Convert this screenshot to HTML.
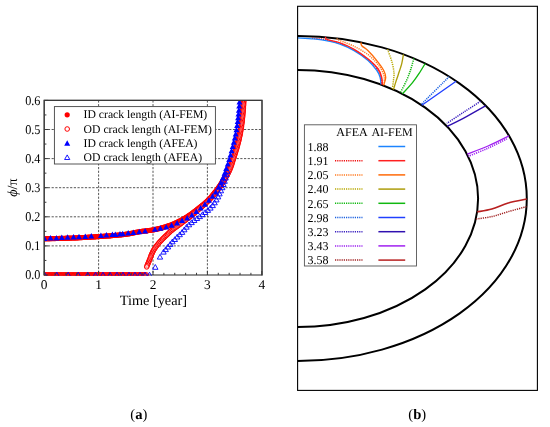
<!DOCTYPE html>
<html><head><meta charset="utf-8"><style>
html,body{margin:0;padding:0;background:#fff;}
svg{display:block;text-rendering:geometricPrecision;filter:blur(0.3px);}
</style></head><body>
<svg width="550" height="427" viewBox="0 0 550 427">
<rect width="550" height="427" fill="#fff"/>
<clipPath id="ca"><rect x="44.2" y="100.4" width="217.8" height="175.29999999999998"/></clipPath>
<rect x="44.2" y="100.4" width="217.8" height="174.6" fill="none" stroke="#3a3a3a" stroke-width="1.1"/>
<path d="M98.60 100.4V275.0M153.00 100.4V275.0M207.40 100.4V275.0M44.2 245.90H262.0M44.2 216.80H262.0M44.2 187.70H262.0M44.2 158.60H262.0M44.2 129.50H262.0" stroke="#444" stroke-width="0.9" stroke-dasharray="2.2 1.5" fill="none"/>
<g clip-path="url(#ca)">
<g fill="none" stroke="#ff0000" stroke-width="1"><circle cx="44.2" cy="275.0" r="2.4"/><circle cx="45.4" cy="275.0" r="2.4"/><circle cx="46.6" cy="275.0" r="2.4"/><circle cx="47.8" cy="275.0" r="2.4"/><circle cx="49.0" cy="275.0" r="2.4"/><circle cx="50.2" cy="275.0" r="2.4"/><circle cx="51.4" cy="275.0" r="2.4"/><circle cx="52.6" cy="275.0" r="2.4"/><circle cx="53.8" cy="275.0" r="2.4"/><circle cx="55.0" cy="275.0" r="2.4"/><circle cx="56.2" cy="275.0" r="2.4"/><circle cx="57.4" cy="275.0" r="2.4"/><circle cx="58.6" cy="275.0" r="2.4"/><circle cx="59.8" cy="275.0" r="2.4"/><circle cx="61.0" cy="275.0" r="2.4"/><circle cx="62.2" cy="275.0" r="2.4"/><circle cx="63.4" cy="275.0" r="2.4"/><circle cx="64.6" cy="275.0" r="2.4"/><circle cx="65.8" cy="275.0" r="2.4"/><circle cx="67.0" cy="275.0" r="2.4"/><circle cx="68.2" cy="275.0" r="2.4"/><circle cx="69.4" cy="275.0" r="2.4"/><circle cx="70.6" cy="275.0" r="2.4"/><circle cx="71.8" cy="275.0" r="2.4"/><circle cx="73.0" cy="275.0" r="2.4"/><circle cx="74.2" cy="275.0" r="2.4"/><circle cx="75.4" cy="275.0" r="2.4"/><circle cx="76.6" cy="275.0" r="2.4"/><circle cx="77.8" cy="275.0" r="2.4"/><circle cx="79.0" cy="275.0" r="2.4"/><circle cx="80.2" cy="275.0" r="2.4"/><circle cx="81.4" cy="275.0" r="2.4"/><circle cx="82.6" cy="275.0" r="2.4"/><circle cx="83.8" cy="275.0" r="2.4"/><circle cx="85.0" cy="275.0" r="2.4"/><circle cx="86.2" cy="275.0" r="2.4"/><circle cx="87.4" cy="275.0" r="2.4"/><circle cx="88.6" cy="275.0" r="2.4"/><circle cx="89.8" cy="275.0" r="2.4"/><circle cx="91.0" cy="275.0" r="2.4"/><circle cx="92.2" cy="275.0" r="2.4"/><circle cx="93.4" cy="275.0" r="2.4"/><circle cx="94.6" cy="275.0" r="2.4"/><circle cx="95.8" cy="275.0" r="2.4"/><circle cx="97.0" cy="275.0" r="2.4"/><circle cx="98.2" cy="275.0" r="2.4"/><circle cx="99.4" cy="275.0" r="2.4"/><circle cx="100.6" cy="275.0" r="2.4"/><circle cx="101.8" cy="275.0" r="2.4"/><circle cx="103.0" cy="275.0" r="2.4"/><circle cx="104.2" cy="275.0" r="2.4"/><circle cx="105.4" cy="275.0" r="2.4"/><circle cx="106.6" cy="275.0" r="2.4"/><circle cx="107.8" cy="275.0" r="2.4"/><circle cx="109.0" cy="275.0" r="2.4"/><circle cx="110.2" cy="275.0" r="2.4"/><circle cx="111.4" cy="275.0" r="2.4"/><circle cx="112.6" cy="275.0" r="2.4"/><circle cx="113.8" cy="275.0" r="2.4"/><circle cx="115.0" cy="275.0" r="2.4"/><circle cx="116.2" cy="275.0" r="2.4"/><circle cx="117.4" cy="275.0" r="2.4"/><circle cx="118.6" cy="275.0" r="2.4"/><circle cx="119.8" cy="275.0" r="2.4"/><circle cx="121.0" cy="275.0" r="2.4"/><circle cx="122.2" cy="275.0" r="2.4"/><circle cx="123.4" cy="275.0" r="2.4"/><circle cx="124.6" cy="275.0" r="2.4"/><circle cx="125.8" cy="275.0" r="2.4"/><circle cx="127.0" cy="275.0" r="2.4"/><circle cx="128.2" cy="275.0" r="2.4"/><circle cx="129.4" cy="275.0" r="2.4"/><circle cx="130.6" cy="275.0" r="2.4"/><circle cx="131.8" cy="275.0" r="2.4"/><circle cx="133.0" cy="275.0" r="2.4"/><circle cx="134.2" cy="275.0" r="2.4"/><circle cx="135.4" cy="275.0" r="2.4"/><circle cx="136.6" cy="275.0" r="2.4"/><circle cx="137.8" cy="275.0" r="2.4"/><circle cx="139.0" cy="275.0" r="2.4"/><circle cx="140.2" cy="275.0" r="2.4"/><circle cx="141.4" cy="275.0" r="2.4"/><circle cx="142.6" cy="275.0" r="2.4"/><circle cx="143.8" cy="275.0" r="2.4"/><circle cx="145.0" cy="275.0" r="2.4"/><circle cx="146.2" cy="275.0" r="2.4"/></g>
<g fill="#ff0000"><circle cx="44.2" cy="238.8" r="2.6"/><circle cx="45.2" cy="238.8" r="2.6"/><circle cx="46.2" cy="238.7" r="2.6"/><circle cx="47.2" cy="238.7" r="2.6"/><circle cx="48.2" cy="238.7" r="2.6"/><circle cx="49.2" cy="238.7" r="2.6"/><circle cx="50.2" cy="238.7" r="2.6"/><circle cx="51.2" cy="238.6" r="2.6"/><circle cx="52.2" cy="238.6" r="2.6"/><circle cx="53.2" cy="238.6" r="2.6"/><circle cx="54.2" cy="238.6" r="2.6"/><circle cx="55.2" cy="238.6" r="2.6"/><circle cx="56.2" cy="238.5" r="2.6"/><circle cx="57.2" cy="238.5" r="2.6"/><circle cx="58.2" cy="238.5" r="2.6"/><circle cx="59.2" cy="238.4" r="2.6"/><circle cx="60.2" cy="238.4" r="2.6"/><circle cx="61.2" cy="238.4" r="2.6"/><circle cx="62.2" cy="238.4" r="2.6"/><circle cx="63.2" cy="238.3" r="2.6"/><circle cx="64.2" cy="238.3" r="2.6"/><circle cx="65.2" cy="238.3" r="2.6"/><circle cx="66.2" cy="238.2" r="2.6"/><circle cx="67.2" cy="238.2" r="2.6"/><circle cx="68.2" cy="238.2" r="2.6"/><circle cx="69.2" cy="238.1" r="2.6"/><circle cx="70.2" cy="238.1" r="2.6"/><circle cx="71.2" cy="238.1" r="2.6"/><circle cx="72.2" cy="238.0" r="2.6"/><circle cx="73.2" cy="238.0" r="2.6"/><circle cx="74.2" cy="237.9" r="2.6"/><circle cx="75.2" cy="237.9" r="2.6"/><circle cx="76.2" cy="237.9" r="2.6"/><circle cx="77.2" cy="237.8" r="2.6"/><circle cx="78.2" cy="237.8" r="2.6"/><circle cx="79.2" cy="237.7" r="2.6"/><circle cx="80.2" cy="237.7" r="2.6"/><circle cx="81.2" cy="237.6" r="2.6"/><circle cx="82.2" cy="237.6" r="2.6"/><circle cx="83.2" cy="237.5" r="2.6"/><circle cx="84.2" cy="237.5" r="2.6"/><circle cx="85.2" cy="237.4" r="2.6"/><circle cx="86.2" cy="237.4" r="2.6"/><circle cx="87.2" cy="237.3" r="2.6"/><circle cx="88.2" cy="237.2" r="2.6"/><circle cx="89.2" cy="237.2" r="2.6"/><circle cx="90.2" cy="237.1" r="2.6"/><circle cx="91.2" cy="237.1" r="2.6"/><circle cx="92.2" cy="237.0" r="2.6"/><circle cx="93.2" cy="236.9" r="2.6"/><circle cx="94.2" cy="236.9" r="2.6"/><circle cx="95.2" cy="236.8" r="2.6"/><circle cx="96.2" cy="236.7" r="2.6"/><circle cx="97.2" cy="236.7" r="2.6"/><circle cx="98.2" cy="236.6" r="2.6"/><circle cx="99.1" cy="236.6" r="2.6"/><circle cx="100.1" cy="236.5" r="2.6"/><circle cx="101.1" cy="236.4" r="2.6"/><circle cx="102.1" cy="236.4" r="2.6"/><circle cx="103.1" cy="236.3" r="2.6"/><circle cx="104.1" cy="236.2" r="2.6"/><circle cx="105.1" cy="236.1" r="2.6"/><circle cx="106.1" cy="236.1" r="2.6"/><circle cx="107.1" cy="236.0" r="2.6"/><circle cx="108.1" cy="235.9" r="2.6"/><circle cx="109.1" cy="235.9" r="2.6"/><circle cx="110.1" cy="235.8" r="2.6"/><circle cx="111.1" cy="235.7" r="2.6"/><circle cx="112.1" cy="235.6" r="2.6"/><circle cx="113.1" cy="235.5" r="2.6"/><circle cx="114.1" cy="235.5" r="2.6"/><circle cx="115.1" cy="235.4" r="2.6"/><circle cx="116.1" cy="235.3" r="2.6"/><circle cx="117.1" cy="235.2" r="2.6"/><circle cx="118.1" cy="235.1" r="2.6"/><circle cx="119.1" cy="235.0" r="2.6"/><circle cx="120.1" cy="234.9" r="2.6"/><circle cx="121.1" cy="234.8" r="2.6"/><circle cx="122.1" cy="234.7" r="2.6"/><circle cx="123.1" cy="234.6" r="2.6"/><circle cx="124.1" cy="234.5" r="2.6"/><circle cx="125.1" cy="234.4" r="2.6"/><circle cx="126.0" cy="234.2" r="2.6"/><circle cx="127.0" cy="234.1" r="2.6"/><circle cx="128.0" cy="233.9" r="2.6"/><circle cx="129.0" cy="233.8" r="2.6"/><circle cx="130.0" cy="233.6" r="2.6"/><circle cx="131.0" cy="233.4" r="2.6"/><circle cx="132.0" cy="233.2" r="2.6"/><circle cx="132.9" cy="233.0" r="2.6"/><circle cx="133.9" cy="232.8" r="2.6"/><circle cx="134.9" cy="232.6" r="2.6"/><circle cx="135.9" cy="232.4" r="2.6"/><circle cx="136.9" cy="232.2" r="2.6"/><circle cx="137.8" cy="232.0" r="2.6"/><circle cx="138.8" cy="231.8" r="2.6"/><circle cx="139.8" cy="231.7" r="2.6"/><circle cx="140.8" cy="231.5" r="2.6"/><circle cx="141.8" cy="231.4" r="2.6"/><circle cx="142.8" cy="231.2" r="2.6"/><circle cx="143.8" cy="231.1" r="2.6"/><circle cx="144.8" cy="231.0" r="2.6"/><circle cx="145.8" cy="230.9" r="2.6"/><circle cx="146.7" cy="230.8" r="2.6"/><circle cx="147.7" cy="230.7" r="2.6"/><circle cx="148.7" cy="230.5" r="2.6"/><circle cx="149.7" cy="230.4" r="2.6"/><circle cx="150.7" cy="230.3" r="2.6"/><circle cx="151.7" cy="230.1" r="2.6"/><circle cx="152.7" cy="229.9" r="2.6"/><circle cx="153.7" cy="229.8" r="2.6"/><circle cx="154.7" cy="229.6" r="2.6"/><circle cx="155.6" cy="229.4" r="2.6"/><circle cx="156.6" cy="229.2" r="2.6"/><circle cx="157.6" cy="228.9" r="2.6"/><circle cx="158.6" cy="228.7" r="2.6"/><circle cx="159.5" cy="228.5" r="2.6"/><circle cx="160.5" cy="228.2" r="2.6"/><circle cx="161.5" cy="228.0" r="2.6"/><circle cx="162.4" cy="227.7" r="2.6"/><circle cx="163.4" cy="227.4" r="2.6"/><circle cx="164.3" cy="227.1" r="2.6"/><circle cx="165.3" cy="226.8" r="2.6"/><circle cx="166.3" cy="226.5" r="2.6"/><circle cx="167.2" cy="226.2" r="2.6"/><circle cx="168.2" cy="225.9" r="2.6"/><circle cx="169.1" cy="225.6" r="2.6"/><circle cx="170.1" cy="225.3" r="2.6"/><circle cx="171.0" cy="224.9" r="2.6"/><circle cx="171.9" cy="224.6" r="2.6"/><circle cx="172.8" cy="224.2" r="2.6"/><circle cx="173.8" cy="223.8" r="2.6"/><circle cx="174.7" cy="223.4" r="2.6"/><circle cx="175.6" cy="222.9" r="2.6"/><circle cx="176.5" cy="222.5" r="2.6"/><circle cx="177.4" cy="222.1" r="2.6"/><circle cx="178.3" cy="221.7" r="2.6"/><circle cx="179.2" cy="221.2" r="2.6"/><circle cx="180.1" cy="220.8" r="2.6"/><circle cx="181.0" cy="220.3" r="2.6"/><circle cx="181.8" cy="219.8" r="2.6"/><circle cx="182.7" cy="219.3" r="2.6"/><circle cx="183.6" cy="218.9" r="2.6"/><circle cx="184.5" cy="218.4" r="2.6"/><circle cx="185.3" cy="217.9" r="2.6"/><circle cx="186.2" cy="217.3" r="2.6"/><circle cx="187.0" cy="216.8" r="2.6"/><circle cx="187.9" cy="216.3" r="2.6"/><circle cx="188.7" cy="215.7" r="2.6"/><circle cx="189.5" cy="215.2" r="2.6"/><circle cx="190.4" cy="214.6" r="2.6"/><circle cx="191.2" cy="214.0" r="2.6"/><circle cx="192.0" cy="213.4" r="2.6"/><circle cx="192.8" cy="212.8" r="2.6"/><circle cx="193.6" cy="212.2" r="2.6"/><circle cx="194.4" cy="211.6" r="2.6"/><circle cx="195.2" cy="211.0" r="2.6"/><circle cx="196.0" cy="210.4" r="2.6"/><circle cx="196.7" cy="209.8" r="2.6"/><circle cx="197.5" cy="209.2" r="2.6"/><circle cx="198.3" cy="208.5" r="2.6"/><circle cx="199.1" cy="207.9" r="2.6"/><circle cx="199.9" cy="207.3" r="2.6"/><circle cx="200.7" cy="206.7" r="2.6"/><circle cx="201.4" cy="206.1" r="2.6"/><circle cx="202.2" cy="205.4" r="2.6"/><circle cx="203.0" cy="204.8" r="2.6"/><circle cx="203.8" cy="204.2" r="2.6"/><circle cx="204.5" cy="203.5" r="2.6"/><circle cx="205.3" cy="202.9" r="2.6"/><circle cx="206.0" cy="202.2" r="2.6"/><circle cx="206.8" cy="201.5" r="2.6"/><circle cx="207.5" cy="200.8" r="2.6"/><circle cx="208.2" cy="200.1" r="2.6"/><circle cx="208.9" cy="199.4" r="2.6"/><circle cx="209.6" cy="198.7" r="2.6"/><circle cx="210.3" cy="198.0" r="2.6"/><circle cx="211.0" cy="197.2" r="2.6"/><circle cx="211.6" cy="196.5" r="2.6"/><circle cx="212.3" cy="195.7" r="2.6"/><circle cx="212.9" cy="194.9" r="2.6"/><circle cx="213.5" cy="194.1" r="2.6"/><circle cx="214.1" cy="193.4" r="2.6"/><circle cx="214.7" cy="192.6" r="2.6"/><circle cx="215.3" cy="191.8" r="2.6"/><circle cx="216.0" cy="191.0" r="2.6"/><circle cx="216.6" cy="190.2" r="2.6"/><circle cx="217.2" cy="189.4" r="2.6"/><circle cx="217.8" cy="188.6" r="2.6"/><circle cx="218.4" cy="187.8" r="2.6"/><circle cx="218.9" cy="187.0" r="2.6"/><circle cx="219.5" cy="186.1" r="2.6"/><circle cx="220.1" cy="185.3" r="2.6"/><circle cx="220.6" cy="184.5" r="2.6"/><circle cx="221.2" cy="183.6" r="2.6"/><circle cx="221.7" cy="182.8" r="2.6"/><circle cx="222.2" cy="181.9" r="2.6"/><circle cx="222.7" cy="181.1" r="2.6"/><circle cx="223.2" cy="180.2" r="2.6"/><circle cx="223.7" cy="179.4" r="2.6"/><circle cx="224.2" cy="178.5" r="2.6"/><circle cx="224.7" cy="177.6" r="2.6"/><circle cx="225.2" cy="176.7" r="2.6"/><circle cx="225.6" cy="175.8" r="2.6"/><circle cx="226.1" cy="175.0" r="2.6"/><circle cx="226.6" cy="174.1" r="2.6"/><circle cx="227.0" cy="173.2" r="2.6"/><circle cx="227.5" cy="172.3" r="2.6"/><circle cx="227.9" cy="171.4" r="2.6"/><circle cx="228.3" cy="170.5" r="2.6"/><circle cx="228.8" cy="169.6" r="2.6"/><circle cx="229.2" cy="168.7" r="2.6"/><circle cx="229.6" cy="167.7" r="2.6"/><circle cx="230.0" cy="166.8" r="2.6"/><circle cx="230.4" cy="165.9" r="2.6"/><circle cx="230.7" cy="165.0" r="2.6"/><circle cx="231.1" cy="164.0" r="2.6"/><circle cx="231.4" cy="163.1" r="2.6"/><circle cx="231.8" cy="162.2" r="2.6"/><circle cx="232.1" cy="161.2" r="2.6"/><circle cx="232.4" cy="160.3" r="2.6"/><circle cx="232.7" cy="159.3" r="2.6"/><circle cx="233.0" cy="158.4" r="2.6"/><circle cx="233.4" cy="157.4" r="2.6"/><circle cx="233.7" cy="156.5" r="2.6"/><circle cx="234.0" cy="155.5" r="2.6"/><circle cx="234.3" cy="154.6" r="2.6"/><circle cx="234.6" cy="153.6" r="2.6"/><circle cx="234.9" cy="152.7" r="2.6"/><circle cx="235.2" cy="151.7" r="2.6"/><circle cx="235.5" cy="150.7" r="2.6"/><circle cx="235.7" cy="149.8" r="2.6"/><circle cx="236.0" cy="148.8" r="2.6"/><circle cx="236.3" cy="147.9" r="2.6"/><circle cx="236.6" cy="146.9" r="2.6"/><circle cx="236.8" cy="145.9" r="2.6"/><circle cx="237.1" cy="145.0" r="2.6"/><circle cx="237.3" cy="144.0" r="2.6"/><circle cx="237.6" cy="143.0" r="2.6"/><circle cx="237.8" cy="142.1" r="2.6"/><circle cx="238.1" cy="141.1" r="2.6"/><circle cx="238.3" cy="140.1" r="2.6"/><circle cx="238.6" cy="139.2" r="2.6"/><circle cx="238.8" cy="138.2" r="2.6"/><circle cx="239.0" cy="137.2" r="2.6"/><circle cx="239.3" cy="136.2" r="2.6"/><circle cx="239.5" cy="135.3" r="2.6"/><circle cx="239.7" cy="134.3" r="2.6"/><circle cx="239.9" cy="133.3" r="2.6"/><circle cx="240.1" cy="132.3" r="2.6"/><circle cx="240.3" cy="131.3" r="2.6"/><circle cx="240.4" cy="130.4" r="2.6"/><circle cx="240.6" cy="129.4" r="2.6"/><circle cx="240.8" cy="128.4" r="2.6"/><circle cx="240.9" cy="127.4" r="2.6"/><circle cx="241.1" cy="126.4" r="2.6"/><circle cx="241.2" cy="125.4" r="2.6"/><circle cx="241.3" cy="124.4" r="2.6"/><circle cx="241.5" cy="123.4" r="2.6"/><circle cx="241.6" cy="122.4" r="2.6"/><circle cx="241.7" cy="121.4" r="2.6"/><circle cx="241.8" cy="120.4" r="2.6"/><circle cx="241.9" cy="119.5" r="2.6"/><circle cx="242.0" cy="118.5" r="2.6"/><circle cx="242.1" cy="117.5" r="2.6"/><circle cx="242.2" cy="116.5" r="2.6"/><circle cx="242.3" cy="115.5" r="2.6"/><circle cx="242.4" cy="114.5" r="2.6"/><circle cx="242.5" cy="113.5" r="2.6"/><circle cx="242.6" cy="112.5" r="2.6"/><circle cx="242.7" cy="111.5" r="2.6"/><circle cx="242.7" cy="110.5" r="2.6"/><circle cx="242.8" cy="109.5" r="2.6"/><circle cx="242.9" cy="108.5" r="2.6"/><circle cx="242.9" cy="107.5" r="2.6"/><circle cx="243.0" cy="106.5" r="2.6"/><circle cx="243.1" cy="105.5" r="2.6"/><circle cx="243.1" cy="104.5" r="2.6"/><circle cx="243.2" cy="103.5" r="2.6"/><circle cx="243.3" cy="102.5" r="2.6"/><circle cx="243.3" cy="101.5" r="2.6"/><circle cx="243.4" cy="100.5" r="2.6"/><circle cx="243.5" cy="99.5" r="2.6"/><circle cx="243.5" cy="98.5" r="2.6"/><circle cx="243.6" cy="97.5" r="2.6"/><circle cx="243.7" cy="96.5" r="2.6"/><circle cx="243.7" cy="95.5" r="2.6"/><circle cx="243.8" cy="94.5" r="2.6"/><circle cx="243.9" cy="93.5" r="2.6"/><circle cx="243.9" cy="92.5" r="2.6"/><circle cx="244.0" cy="91.5" r="2.6"/><circle cx="244.1" cy="90.5" r="2.6"/><circle cx="244.1" cy="89.5" r="2.6"/><circle cx="244.2" cy="88.5" r="2.6"/><circle cx="244.3" cy="87.5" r="2.6"/><circle cx="244.3" cy="86.5" r="2.6"/></g>
<g fill="#fff" fill-opacity="0.45" stroke="#ff0000" stroke-width="1"><circle cx="244.6" cy="86.8" r="2.3"/><circle cx="244.6" cy="88.0" r="2.3"/><circle cx="244.5" cy="89.2" r="2.3"/><circle cx="244.4" cy="90.3" r="2.3"/><circle cx="244.4" cy="91.5" r="2.3"/><circle cx="244.3" cy="92.7" r="2.3"/><circle cx="244.2" cy="93.9" r="2.3"/><circle cx="244.2" cy="95.1" r="2.3"/><circle cx="244.1" cy="96.3" r="2.3"/><circle cx="244.0" cy="97.5" r="2.3"/><circle cx="244.0" cy="98.7" r="2.3"/><circle cx="243.9" cy="99.9" r="2.3"/><circle cx="243.8" cy="101.1" r="2.3"/><circle cx="243.7" cy="102.3" r="2.3"/><circle cx="243.6" cy="103.5" r="2.3"/><circle cx="243.6" cy="104.7" r="2.3"/><circle cx="243.5" cy="105.9" r="2.3"/><circle cx="243.4" cy="107.1" r="2.3"/><circle cx="243.3" cy="108.3" r="2.3"/><circle cx="243.2" cy="109.5" r="2.3"/><circle cx="243.1" cy="110.7" r="2.3"/><circle cx="243.0" cy="111.9" r="2.3"/><circle cx="242.9" cy="113.1" r="2.3"/><circle cx="242.8" cy="114.3" r="2.3"/><circle cx="242.7" cy="115.5" r="2.3"/><circle cx="242.6" cy="116.7" r="2.3"/><circle cx="242.5" cy="117.9" r="2.3"/><circle cx="242.3" cy="119.1" r="2.3"/><circle cx="242.2" cy="120.3" r="2.3"/><circle cx="242.1" cy="121.5" r="2.3"/><circle cx="241.9" cy="122.6" r="2.3"/><circle cx="241.8" cy="123.8" r="2.3"/><circle cx="241.6" cy="125.0" r="2.3"/><circle cx="241.5" cy="126.2" r="2.3"/><circle cx="241.3" cy="127.4" r="2.3"/><circle cx="241.1" cy="128.6" r="2.3"/><circle cx="240.9" cy="129.8" r="2.3"/><circle cx="240.7" cy="131.0" r="2.3"/><circle cx="240.5" cy="132.1" r="2.3"/><circle cx="240.3" cy="133.3" r="2.3"/><circle cx="240.1" cy="134.5" r="2.3"/><circle cx="239.8" cy="135.7" r="2.3"/><circle cx="239.6" cy="136.8" r="2.3"/><circle cx="239.3" cy="138.0" r="2.3"/><circle cx="239.1" cy="139.2" r="2.3"/><circle cx="238.8" cy="140.4" r="2.3"/><circle cx="238.5" cy="141.5" r="2.3"/><circle cx="238.2" cy="142.7" r="2.3"/><circle cx="237.9" cy="143.9" r="2.3"/><circle cx="237.6" cy="145.0" r="2.3"/><circle cx="237.3" cy="146.2" r="2.3"/><circle cx="237.0" cy="147.3" r="2.3"/><circle cx="236.7" cy="148.5" r="2.3"/><circle cx="236.3" cy="149.6" r="2.3"/><circle cx="236.0" cy="150.8" r="2.3"/><circle cx="235.6" cy="151.9" r="2.3"/><circle cx="235.3" cy="153.1" r="2.3"/><circle cx="234.9" cy="154.2" r="2.3"/><circle cx="234.5" cy="155.4" r="2.3"/><circle cx="234.2" cy="156.5" r="2.3"/><circle cx="233.8" cy="157.7" r="2.3"/><circle cx="233.5" cy="158.8" r="2.3"/><circle cx="233.1" cy="159.9" r="2.3"/><circle cx="232.7" cy="161.1" r="2.3"/><circle cx="232.4" cy="162.2" r="2.3"/><circle cx="232.0" cy="163.4" r="2.3"/><circle cx="231.7" cy="164.5" r="2.3"/><circle cx="231.3" cy="165.7" r="2.3"/><circle cx="230.9" cy="166.8" r="2.3"/><circle cx="230.5" cy="167.9" r="2.3"/><circle cx="230.0" cy="169.0" r="2.3"/><circle cx="229.6" cy="170.1" r="2.3"/><circle cx="229.1" cy="171.2" r="2.3"/><circle cx="228.5" cy="172.3" r="2.3"/><circle cx="228.0" cy="173.4" r="2.3"/><circle cx="227.5" cy="174.5" r="2.3"/><circle cx="226.9" cy="175.5" r="2.3"/><circle cx="226.3" cy="176.6" r="2.3"/><circle cx="225.7" cy="177.6" r="2.3"/><circle cx="225.2" cy="178.7" r="2.3"/><circle cx="224.6" cy="179.7" r="2.3"/><circle cx="223.9" cy="180.7" r="2.3"/><circle cx="223.3" cy="181.8" r="2.3"/><circle cx="222.7" cy="182.8" r="2.3"/><circle cx="222.0" cy="183.8" r="2.3"/><circle cx="221.4" cy="184.8" r="2.3"/><circle cx="220.7" cy="185.8" r="2.3"/><circle cx="220.0" cy="186.8" r="2.3"/><circle cx="219.3" cy="187.8" r="2.3"/><circle cx="218.6" cy="188.7" r="2.3"/><circle cx="217.9" cy="189.7" r="2.3"/><circle cx="217.2" cy="190.6" r="2.3"/><circle cx="216.4" cy="191.6" r="2.3"/><circle cx="215.7" cy="192.5" r="2.3"/><circle cx="214.9" cy="193.4" r="2.3"/><circle cx="214.2" cy="194.4" r="2.3"/><circle cx="213.4" cy="195.3" r="2.3"/><circle cx="212.6" cy="196.2" r="2.3"/><circle cx="211.9" cy="197.1" r="2.3"/><circle cx="211.1" cy="198.0" r="2.3"/><circle cx="210.2" cy="198.9" r="2.3"/><circle cx="209.4" cy="199.8" r="2.3"/><circle cx="208.6" cy="200.6" r="2.3"/><circle cx="207.7" cy="201.5" r="2.3"/><circle cx="206.8" cy="202.3" r="2.3"/><circle cx="206.0" cy="203.1" r="2.3"/><circle cx="205.1" cy="203.9" r="2.3"/><circle cx="204.2" cy="204.7" r="2.3"/><circle cx="203.3" cy="205.5" r="2.3"/><circle cx="202.4" cy="206.3" r="2.3"/><circle cx="201.5" cy="207.1" r="2.3"/><circle cx="200.5" cy="207.8" r="2.3"/><circle cx="199.6" cy="208.6" r="2.3"/><circle cx="198.7" cy="209.4" r="2.3"/><circle cx="197.8" cy="210.2" r="2.3"/><circle cx="196.9" cy="211.0" r="2.3"/><circle cx="196.0" cy="211.8" r="2.3"/><circle cx="195.1" cy="212.6" r="2.3"/><circle cx="194.2" cy="213.4" r="2.3"/><circle cx="193.3" cy="214.1" r="2.3"/><circle cx="192.4" cy="214.9" r="2.3"/><circle cx="191.4" cy="215.7" r="2.3"/><circle cx="190.5" cy="216.4" r="2.3"/><circle cx="189.5" cy="217.1" r="2.3"/><circle cx="188.6" cy="217.8" r="2.3"/><circle cx="187.6" cy="218.5" r="2.3"/><circle cx="186.6" cy="219.3" r="2.3"/><circle cx="185.7" cy="220.0" r="2.3"/><circle cx="184.7" cy="220.7" r="2.3"/><circle cx="183.7" cy="221.4" r="2.3"/><circle cx="182.8" cy="222.1" r="2.3"/><circle cx="181.8" cy="222.8" r="2.3"/><circle cx="180.9" cy="223.6" r="2.3"/><circle cx="179.9" cy="224.3" r="2.3"/><circle cx="178.9" cy="225.0" r="2.3"/><circle cx="177.9" cy="225.7" r="2.3"/><circle cx="177.0" cy="226.4" r="2.3"/><circle cx="176.0" cy="227.1" r="2.3"/><circle cx="175.0" cy="227.8" r="2.3"/><circle cx="174.0" cy="228.5" r="2.3"/><circle cx="173.1" cy="229.2" r="2.3"/><circle cx="172.2" cy="230.0" r="2.3"/><circle cx="171.2" cy="230.7" r="2.3"/><circle cx="170.3" cy="231.5" r="2.3"/><circle cx="169.5" cy="232.4" r="2.3"/><circle cx="168.6" cy="233.2" r="2.3"/><circle cx="167.7" cy="234.0" r="2.3"/><circle cx="166.9" cy="234.8" r="2.3"/><circle cx="166.0" cy="235.7" r="2.3"/><circle cx="165.1" cy="236.5" r="2.3"/><circle cx="164.3" cy="237.4" r="2.3"/><circle cx="163.4" cy="238.2" r="2.3"/><circle cx="162.6" cy="239.0" r="2.3"/><circle cx="161.7" cy="239.9" r="2.3"/><circle cx="160.9" cy="240.8" r="2.3"/><circle cx="160.1" cy="241.6" r="2.3"/><circle cx="159.3" cy="242.5" r="2.3"/><circle cx="158.5" cy="243.4" r="2.3"/><circle cx="157.7" cy="244.4" r="2.3"/><circle cx="157.0" cy="245.3" r="2.3"/><circle cx="156.3" cy="246.3" r="2.3"/><circle cx="155.6" cy="247.2" r="2.3"/><circle cx="154.9" cy="248.2" r="2.3"/><circle cx="154.2" cy="249.2" r="2.3"/><circle cx="153.6" cy="250.2" r="2.3"/><circle cx="153.0" cy="251.3" r="2.3"/><circle cx="152.5" cy="252.4" r="2.3"/><circle cx="152.0" cy="253.5" r="2.3"/><circle cx="151.5" cy="254.6" r="2.3"/><circle cx="151.1" cy="255.7" r="2.3"/><circle cx="150.7" cy="256.8" r="2.3"/><circle cx="150.3" cy="257.9" r="2.3"/><circle cx="149.8" cy="259.1" r="2.3"/><circle cx="149.4" cy="260.2" r="2.3"/><circle cx="148.9" cy="261.3" r="2.3"/><circle cx="148.5" cy="262.4" r="2.3"/><circle cx="148.0" cy="263.5" r="2.3"/><circle cx="147.6" cy="264.6" r="2.3"/><circle cx="147.1" cy="265.7" r="2.3"/><circle cx="146.7" cy="266.9" r="2.3"/></g>
<path fill="none" stroke="#0000ff" stroke-width="0.9" d="M41.9 276.8L44.5 272.2L47.1 276.8ZM54.2 276.8L56.8 272.2L59.4 276.8ZM65.6 276.8L68.2 272.2L70.8 276.8ZM75.6 276.8L78.2 272.2L80.8 276.8ZM85.1 276.8L87.7 272.2L90.3 276.8ZM92.9 276.8L95.5 272.2L98.1 276.8ZM100.4 276.8L103.0 272.2L105.6 276.8ZM107.4 276.8L110.0 272.2L112.6 276.8ZM114.4 276.8L117.0 272.2L119.6 276.8ZM120.4 276.8L123.0 272.2L125.6 276.8ZM126.4 276.8L129.0 272.2L131.6 276.8ZM132.4 276.8L135.0 272.2L137.6 276.8ZM137.4 276.8L140.0 272.2L142.6 276.8ZM142.4 276.8L145.0 272.2L147.6 276.8ZM146.9 276.8L149.5 272.2L152.1 276.8Z"/>
<path fill="none" stroke="#0000ff" stroke-width="0.9" d="M152.6 269.3L155.3 264.5L158.0 269.3ZM157.3 259.1L160.0 254.3L162.7 259.1ZM160.8 254.1L163.5 249.3L166.2 254.1ZM163.0 251.6L165.7 246.8L168.4 251.6ZM165.3 249.0L168.0 244.2L170.7 249.0ZM167.5 246.4L170.2 241.6L172.9 246.4ZM169.7 243.8L172.4 239.0L175.1 243.8ZM172.1 241.5L174.8 236.7L177.5 241.5ZM174.5 239.0L177.2 234.2L179.9 239.0ZM177.0 236.7L179.7 231.9L182.4 236.7ZM179.4 234.4L182.1 229.6L184.8 234.4ZM181.6 231.8L184.3 227.0L187.0 231.8ZM183.8 229.2L186.5 224.4L189.2 229.2ZM186.3 226.8L189.0 222.0L191.7 226.8ZM188.9 224.6L191.6 219.8L194.3 224.6ZM191.5 222.5L194.2 217.7L196.9 222.5ZM194.3 220.5L197.0 215.7L199.7 220.5ZM197.1 218.6L199.8 213.8L202.5 218.6ZM199.8 216.6L202.5 211.8L205.2 216.6ZM202.5 214.5L205.2 209.7L207.9 214.5ZM205.2 212.4L207.9 207.6L210.6 212.4ZM207.7 210.1L210.4 205.3L213.1 210.1ZM210.0 207.6L212.7 202.8L215.4 207.6ZM211.9 204.8L214.6 200.0L217.3 204.8ZM213.7 201.9L216.4 197.1L219.1 201.9ZM215.4 198.9L218.1 194.1L220.8 198.9ZM216.8 195.9L219.5 191.1L222.2 195.9ZM218.2 192.8L220.9 188.0L223.6 192.8ZM219.6 189.7L222.3 184.9L225.0 189.7ZM220.8 186.5L223.5 181.7L226.2 186.5ZM221.9 183.3L224.6 178.5L227.3 183.3ZM222.9 180.0L225.6 175.2L228.3 180.0ZM223.8 176.7L226.5 171.9L229.2 176.7ZM224.6 173.4L227.3 168.6L230.0 173.4Z"/>
<path fill="#0000ff" d="M41.5 240.9L44.5 235.4L47.5 240.9ZM47.5 240.6L50.5 235.1L53.5 240.6ZM53.4 240.4L56.4 234.9L59.4 240.4ZM58.8 240.1L61.8 234.6L64.8 240.1ZM64.6 239.8L67.6 234.3L70.6 239.8ZM70.5 239.5L73.5 234.0L76.5 239.5ZM76.0 239.3L79.0 233.8L82.0 239.3ZM82.3 238.9L85.3 233.4L88.3 238.9ZM88.3 238.6L91.3 233.1L94.3 238.6ZM97.9 238.0L100.9 232.5L103.9 238.0ZM103.4 237.6L106.4 232.1L109.4 237.6ZM109.4 237.1L112.4 231.6L115.4 237.1ZM112.3 236.9L115.3 231.4L118.3 236.9ZM117.0 236.4L120.0 230.9L123.0 236.4ZM119.7 236.2L122.7 230.7L125.7 236.2ZM125.2 235.6L128.2 230.1L131.2 235.6ZM130.4 235.0L133.4 229.5L136.4 235.0ZM136.3 234.3L139.3 228.8L142.3 234.3ZM142.1 233.5L145.1 228.0L148.1 233.5ZM151.9 231.8L154.9 226.3L157.9 231.8ZM157.4 230.7L160.4 225.2L163.4 230.7ZM163.2 229.4L166.2 223.9L169.2 229.4ZM168.6 227.7L171.6 222.2L174.6 227.7ZM174.1 225.6L177.1 220.1L180.1 225.6ZM179.1 223.0L182.1 217.5L185.1 223.0ZM184.2 220.4L187.2 214.9L190.2 220.4ZM188.9 217.5L191.9 212.0L194.9 217.5ZM193.3 214.0L196.3 208.5L199.3 214.0ZM197.7 210.4L200.7 204.9L203.7 210.4ZM201.9 206.7L204.9 201.2L207.9 206.7ZM205.9 202.8L208.9 197.3L211.9 202.8ZM209.5 198.7L212.5 193.2L215.5 198.7ZM212.7 194.4L215.7 188.9L218.7 194.4ZM215.5 189.8L218.5 184.3L221.5 189.8ZM217.8 185.2L220.8 179.7L223.8 185.2ZM219.8 180.5L222.8 175.0L225.8 180.5ZM221.6 175.8L224.6 170.3L227.6 175.8ZM223.2 171.1L226.2 165.6L229.2 171.1ZM224.8 166.5L227.8 161.0L230.8 166.5ZM226.2 162.0L229.2 156.5L232.2 162.0ZM227.5 157.6L230.5 152.1L233.5 157.6ZM228.6 153.3L231.6 147.8L234.6 153.3ZM229.7 148.9L232.7 143.4L235.7 148.9ZM230.8 144.7L233.8 139.2L236.8 144.7ZM231.8 140.5L234.8 135.0L237.8 140.5ZM232.7 136.4L235.7 130.9L238.7 136.4ZM233.5 132.2L236.5 126.7L239.5 132.2ZM234.1 128.1L237.1 122.6L240.1 128.1ZM234.7 124.1L237.7 118.6L240.7 124.1ZM235.1 120.3L238.1 114.8L241.1 120.3ZM235.5 116.6L238.5 111.1L241.5 116.6ZM235.9 112.7L238.9 107.2L241.9 112.7ZM236.2 108.4L239.2 102.9L242.2 108.4ZM236.5 104.5L239.5 99.0L242.5 104.5ZM236.8 100.5L239.8 95.0L242.8 100.5ZM237.1 96.2L240.1 90.7L243.1 96.2ZM237.3 92.5L240.3 87.0L243.3 92.5ZM237.6 88.6L240.6 83.1L243.6 88.6Z"/>
</g>
<path d="M44.2 275.55V100.4H262.0V275.55" fill="none" stroke="#3a3a3a" stroke-width="1.1"/>
<path d="M44.20 275.0v-4M55.08 275.0v-2.2M65.96 275.0v-2.2M76.84 275.0v-2.2M87.72 275.0v-2.2M98.60 275.0v-4M109.48 275.0v-2.2M120.36 275.0v-2.2M131.24 275.0v-2.2M142.12 275.0v-2.2M153.00 275.0v-4M163.88 275.0v-2.2M174.76 275.0v-2.2M185.64 275.0v-2.2M196.52 275.0v-2.2M207.40 275.0v-4M218.28 275.0v-2.2M229.16 275.0v-2.2M240.04 275.0v-2.2M250.92 275.0v-2.2M261.80 275.0v-4M44.2 275.00h4M44.2 260.45h2.2M44.2 245.90h4M44.2 231.35h2.2M44.2 216.80h4M44.2 202.25h2.2M44.2 187.70h4M44.2 173.15h2.2M44.2 158.60h4M44.2 144.05h2.2M44.2 129.50h4M44.2 114.95h2.2M44.2 100.40h4" stroke="#3a3a3a" stroke-width="1" fill="none"/>
<g font-family="Liberation Serif, serif" font-size="13.4" fill="#000">
<text x="44.2" y="288.5" text-anchor="middle">0</text>
<text x="98.6" y="288.5" text-anchor="middle">1</text>
<text x="153.0" y="288.5" text-anchor="middle">2</text>
<text x="207.4" y="288.5" text-anchor="middle">3</text>
<text x="261.8" y="288.5" text-anchor="middle">4</text>
<text transform="translate(40.4 279.3) scale(0.91 1)" text-anchor="end">0.0</text>
<text transform="translate(40.4 250.2) scale(0.91 1)" text-anchor="end">0.1</text>
<text transform="translate(40.4 221.1) scale(0.91 1)" text-anchor="end">0.2</text>
<text transform="translate(40.4 192.0) scale(0.91 1)" text-anchor="end">0.3</text>
<text transform="translate(40.4 162.9) scale(0.91 1)" text-anchor="end">0.4</text>
<text transform="translate(40.4 133.8) scale(0.91 1)" text-anchor="end">0.5</text>
<text transform="translate(40.4 104.7) scale(0.91 1)" text-anchor="end">0.6</text>
</g>
<text x="153.4" y="304.6" text-anchor="middle" font-family="Liberation Serif, serif" font-size="14.3" fill="#000">Time [year]</text>
<text transform="translate(17.4 187.6) rotate(-90)" text-anchor="middle" font-family="Liberation Serif, serif" font-size="14" fill="#000"><tspan font-style="italic">ϕ</tspan>/π</text>
<rect x="54.4" y="106.6" width="161" height="57.4" fill="#fff" stroke="#444" stroke-width="0.9"/>
<circle cx="67.2" cy="114.8" r="2.6" fill="#ff0000"/>
<circle cx="67.2" cy="129.0" r="2.3" fill="none" stroke="#ff0000" stroke-width="1"/>
<path fill="#0000ff" d="M64.2 145.8L67.2 140.3L70.2 145.8Z"/>
<path fill="none" stroke="#0000ff" stroke-width="0.9" d="M64.6 159.5L67.2 154.9L69.8 159.5Z"/>
<g font-family="Liberation Serif, serif" font-size="11.7" fill="#000">
<text x="83.6" y="118.4">ID crack length (AI-FEM)</text>
<text x="83.6" y="132.6">OD crack length (AI-FEM)</text>
<text x="83.6" y="146.7">ID crack length (AFEA)</text>
<text x="83.6" y="160.8">OD crack length (AFEA)</text>
</g>
<text x="138.8" y="419.1" text-anchor="middle" font-family="Liberation Serif, serif" font-size="14.6" fill="#000">(<tspan font-weight="bold">a</tspan>)</text>
<clipPath id="cb"><rect x="297.6" y="6.3" width="239.79999999999995" height="384.09999999999997"/></clipPath>
<g clip-path="url(#cb)">
<ellipse cx="297.6" cy="198.5" rx="229.2" ry="162.5" fill="none" stroke="#000" stroke-width="2.0"/>
<ellipse cx="297.6" cy="198.5" rx="180.5" ry="128.6" fill="none" stroke="#000" stroke-width="2.0"/>
<path d="M312.00 38.20C314.17 38.43 320.33 38.73 325.00 39.60C329.67 40.47 335.15 41.70 340.00 43.40C344.85 45.10 349.42 47.10 354.10 49.80C358.78 52.50 364.20 56.32 368.10 59.60C372.00 62.88 375.35 66.57 377.50 69.50C379.65 72.43 380.32 74.70 381.00 77.20C381.68 79.70 381.50 83.28 381.60 84.50" fill="none" stroke="#f01010" stroke-width="1.5" stroke-dasharray="1.2 1"/>
<path d="M336.60 38.60C337.17 38.93 337.08 39.32 340.00 40.60C342.92 41.88 349.42 43.95 354.10 46.30C358.78 48.65 364.12 51.67 368.10 54.70C372.08 57.73 375.42 61.22 378.00 64.50C380.58 67.78 382.55 71.48 383.60 74.40C384.65 77.32 384.35 80.17 384.30 82.00C384.25 83.83 383.47 84.83 383.30 85.40" fill="none" stroke="#ff7a20" stroke-width="1.5" stroke-dasharray="1.2 1"/>
<path d="M387.50 49.20C388.23 51.32 390.82 57.92 391.90 61.90C392.98 65.88 393.77 69.83 394.00 73.10C394.23 76.37 393.57 78.83 393.30 81.50C393.03 84.17 392.55 87.83 392.40 89.10" fill="none" stroke="#b8a800" stroke-width="1.5" stroke-dasharray="1.2 1"/>
<path d="M413.80 58.50C413.32 60.23 412.08 65.30 410.90 68.90C409.72 72.50 408.47 76.13 406.70 80.10C404.93 84.07 401.37 90.60 400.30 92.70" fill="none" stroke="#10b810" stroke-width="1.5" stroke-dasharray="1.2 1"/>
<path d="M449.20 76.60C444.50 81.27 425.70 99.93 421.00 104.60" fill="none" stroke="#1a60e0" stroke-width="1.5" stroke-dasharray="1.2 1"/>
<path d="M480.50 101.40C477.75 103.17 469.62 108.33 464.00 112.00C458.38 115.67 449.67 121.50 446.80 123.40" fill="none" stroke="#3a20c0" stroke-width="1.5" stroke-dasharray="1.2 1"/>
<path d="M507.00 138.80C503.83 140.37 494.50 145.27 488.00 148.20C481.50 151.13 471.33 155.03 468.00 156.40" fill="none" stroke="#9a20f0" stroke-width="1.5" stroke-dasharray="1.2 1"/>
<path d="M526.50 206.60C523.45 207.45 513.98 210.03 508.20 211.70C502.42 213.37 497.20 215.38 491.80 216.60C486.40 217.82 478.47 218.60 475.80 219.00" fill="none" stroke="#a02020" stroke-width="1.5" stroke-dasharray="1.2 1"/>
<path d="M297.60 37.90C300.33 38.07 308.60 38.32 314.00 38.90C319.40 39.48 325.67 40.52 330.00 41.40C334.33 42.28 335.98 42.67 340.00 44.20C344.02 45.73 349.42 47.90 354.10 50.60C358.78 53.30 364.35 57.13 368.10 60.40C371.85 63.67 374.60 67.40 376.60 70.20C378.60 73.00 379.37 74.85 380.10 77.20C380.83 79.55 380.85 83.12 381.00 84.30" fill="none" stroke="#1c84ff" stroke-width="1.35"/>
<path d="M325.30 37.00C325.65 37.43 324.95 38.62 327.40 39.60C329.85 40.58 335.55 41.28 340.00 42.90C344.45 44.52 349.42 46.62 354.10 49.30C358.78 51.98 364.12 55.75 368.10 59.00C372.08 62.25 375.75 65.77 378.00 68.80C380.25 71.83 380.88 74.55 381.60 77.20C382.32 79.85 382.18 83.45 382.30 84.70" fill="none" stroke="#ff2020" stroke-width="1.5"/>
<path d="M361.00 42.40C361.13 42.95 360.62 44.32 361.80 45.70C362.98 47.08 365.63 48.27 368.10 50.70C370.57 53.13 374.02 57.05 376.60 60.30C379.18 63.55 382.08 67.35 383.60 70.20C385.12 73.05 385.70 74.87 385.70 77.40C385.70 79.93 383.95 84.07 383.60 85.40" fill="none" stroke="#ff6a08" stroke-width="1.35"/>
<path d="M403.40 54.40C403.13 55.88 402.65 59.95 401.80 63.30C400.95 66.65 399.35 71.23 398.30 74.50C397.25 77.77 396.30 80.38 395.50 82.90C394.70 85.42 393.83 88.48 393.50 89.60" fill="none" stroke="#ad9d0c" stroke-width="1.35"/>
<path d="M425.20 63.50C424.22 65.10 421.45 69.87 419.30 73.10C417.15 76.33 415.12 79.43 412.30 82.90C409.48 86.37 404.05 92.07 402.40 93.90" fill="none" stroke="#10b810" stroke-width="1.35"/>
<path d="M456.10 81.20C450.38 85.20 427.52 101.20 421.80 105.20" fill="none" stroke="#2040ff" stroke-width="1.35"/>
<path d="M485.60 105.80C482.33 107.63 472.38 113.37 466.00 116.80C459.62 120.23 450.42 124.80 447.30 126.40" fill="none" stroke="#3010b0" stroke-width="1.35"/>
<path d="M509.00 135.80C505.50 137.50 494.97 142.93 488.00 146.00C481.03 149.07 470.67 152.83 467.20 154.20" fill="none" stroke="#a020f0" stroke-width="1.35"/>
<path d="M526.80 199.00C523.70 199.67 514.03 201.33 508.20 203.00C502.37 204.67 496.95 207.53 491.80 209.00C486.65 210.47 479.72 211.33 477.30 211.80" fill="none" stroke="#b82020" stroke-width="1.7"/>
</g>
<rect x="297.6" y="6.3" width="239.79999999999995" height="384.09999999999997" fill="none" stroke="#000" stroke-width="1.1"/>
<rect x="304.4" y="124.8" width="112.1" height="141.2" fill="#fff" stroke="#555" stroke-width="0.9"/>
<g font-family="Liberation Serif, serif" font-size="12" fill="#000">
<text x="336.3" y="136.3">AFEA</text>
<text x="371.4" y="136.3">AI-FEM</text>
<text x="307.6" y="150.8">1.88</text>
<text x="307.6" y="165.0">1.91</text>
<text x="307.6" y="179.2">2.05</text>
<text x="307.6" y="193.4">2.40</text>
<text x="307.6" y="207.6">2.65</text>
<text x="307.6" y="221.8">2.98</text>
<text x="307.6" y="236.0">3.23</text>
<text x="307.6" y="250.2">3.43</text>
<text x="307.6" y="264.4">3.58</text>
</g>
<path d="M378.4 146.5H405.2" stroke="#1c84ff" stroke-width="1.5"/>
<path d="M335 160.7H362.5" stroke="#f01010" stroke-width="1.5" stroke-dasharray="1.2 1"/>
<path d="M378.4 160.7H405.2" stroke="#ff2020" stroke-width="1.5"/>
<path d="M335 174.9H362.5" stroke="#ff7a20" stroke-width="1.5" stroke-dasharray="1.2 1"/>
<path d="M378.4 174.9H405.2" stroke="#ff6a08" stroke-width="1.5"/>
<path d="M335 189.1H362.5" stroke="#b8a800" stroke-width="1.5" stroke-dasharray="1.2 1"/>
<path d="M378.4 189.1H405.2" stroke="#ad9d0c" stroke-width="1.5"/>
<path d="M335 203.3H362.5" stroke="#10b810" stroke-width="1.5" stroke-dasharray="1.2 1"/>
<path d="M378.4 203.3H405.2" stroke="#10b810" stroke-width="1.5"/>
<path d="M335 217.5H362.5" stroke="#1a60e0" stroke-width="1.5" stroke-dasharray="1.2 1"/>
<path d="M378.4 217.5H405.2" stroke="#2040ff" stroke-width="1.5"/>
<path d="M335 231.7H362.5" stroke="#3a20c0" stroke-width="1.5" stroke-dasharray="1.2 1"/>
<path d="M378.4 231.7H405.2" stroke="#3010b0" stroke-width="1.5"/>
<path d="M335 245.9H362.5" stroke="#9a20f0" stroke-width="1.5" stroke-dasharray="1.2 1"/>
<path d="M378.4 245.9H405.2" stroke="#a020f0" stroke-width="1.5"/>
<path d="M335 260.1H362.5" stroke="#a02020" stroke-width="1.5" stroke-dasharray="1.2 1"/>
<path d="M378.4 260.1H405.2" stroke="#b82020" stroke-width="1.5"/>
<text x="417.2" y="419.1" text-anchor="middle" font-family="Liberation Serif, serif" font-size="14.6" fill="#000">(<tspan font-weight="bold">b</tspan>)</text>
</svg>
</body></html>
